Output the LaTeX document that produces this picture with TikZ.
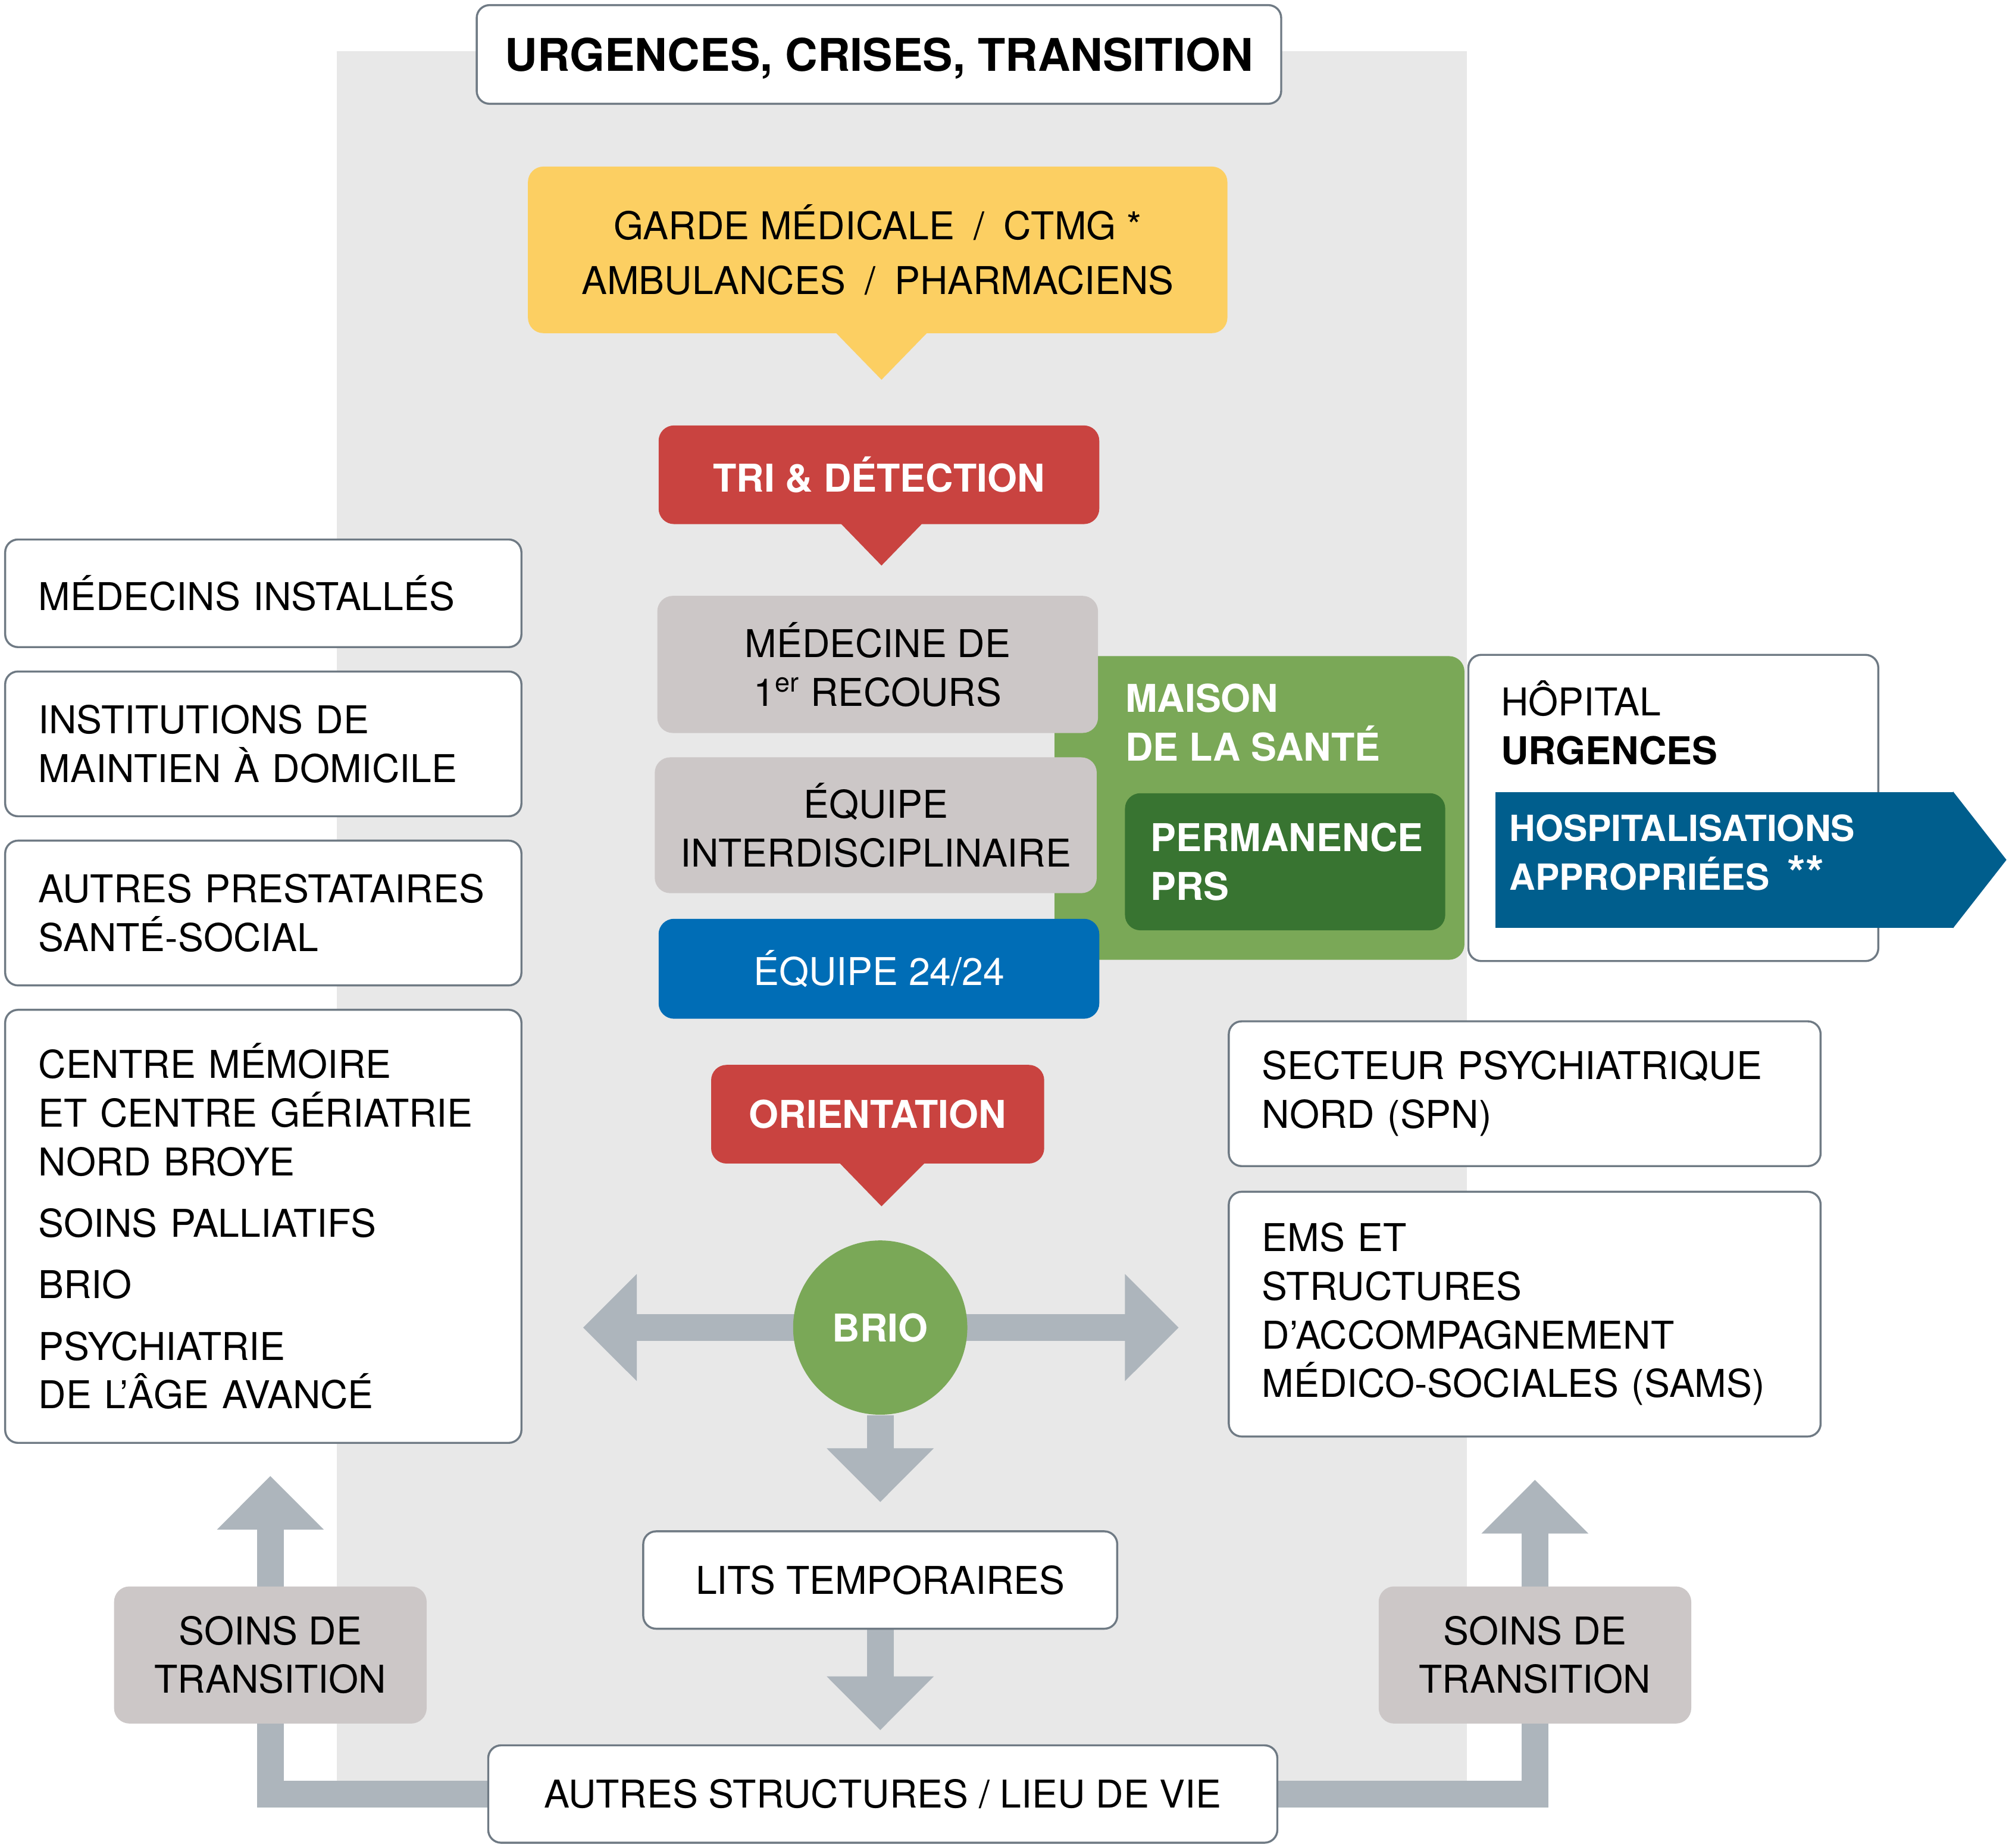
\documentclass[tikz,border=0pt]{standalone}
\usepackage{fontspec}
\setmainfont{TeX Gyre Heros}
\usepackage{tikz}
\usetikzlibrary{arrows.meta, positioning, calc}
\definecolor{BackGray}{HTML}{E8E8E8}
\definecolor{FrameGray}{HTML}{6F7A84}
\definecolor{GardeYellow}{HTML}{FCCF62}
\definecolor{AlertRed}{HTML}{C94340}
\definecolor{SoftGray}{HTML}{CCC7C7}
\definecolor{TeamBlue}{HTML}{006DB6}
\definecolor{MaisonGreen}{HTML}{7AA857}
\definecolor{PrsGreen}{HTML}{387431}
\definecolor{HospBlue}{HTML}{005E8D}
\definecolor{ArrowGray}{HTML}{ADB5BC}
\newcommand{\diagfont}{\fontsize{17}{21.6}\selectfont}
\newcommand{\diagbold}{\fontsize{17}{21.6}\selectfont\bfseries}
\pgfdeclarelayer{bg}
\pgfdeclarelayer{flow}
\pgfsetlayers{bg,flow,main}
\tikzset{
  % Box styles
  whitebox/.style={rectangle, rounded corners=0.2cm, draw=FrameGray, line width=0.9pt, fill=white, font=\diagfont, align=center},
  colbox/.style={rectangle, rounded corners=0.24cm, font=\diagfont, align=center},
  leftbox/.style={whitebox, align=left, text width=7.02cm, inner xsep=0.52cm},
  rightbox/.style={whitebox, align=left, text width=8.2cm, inner xsep=0.52cm},
  redbox/.style={colbox, fill=AlertRed, text=white, font=\diagbold},
  graybox/.style={colbox, fill=SoftGray},
  % Arrow styles
  grayarrow/.style={draw=ArrowGray, line width=0.42cm, -{Triangle[length=0.84cm, width=1.62cm]}}
}
\begin{document}
\begin{tikzpicture}[x=0.02cm, y=0.02cm]
  \useasboundingbox (0,0) rectangle (1568,-1442);

  % Background band
  \begin{pgfonlayer}{bg}
    \fill[BackGray] (263,-40) rectangle (1145,-1390);
  \end{pgfonlayer}

  % Title
  \node[whitebox, font={\fontsize{20}{24}\selectfont\bfseries}, text depth=0pt, minimum width=12.56cm, minimum height=1.54cm] (title) at (686,-42.5) {URGENCES, CRISES, TRANSITION};

  % Entry points
  \node[colbox, fill=GardeYellow, minimum width=10.92cm, minimum height=2.6cm] (garde) at (685,-195) {GARDE MÉDICALE\enspace/\enspace CTMG *\\[0.1cm]AMBULANCES\enspace/\enspace PHARMACIENS};
  \fill[GardeYellow] ($(garde.south)+(-33,1)$) -- ($(garde.south)+(39,1)$) -- ($(garde.south)+(3,-36)$) -- cycle;

  \node[redbox, minimum width=6.88cm, minimum height=1.54cm] (tri) at (686,-370.5) {TRI \& DÉTECTION};
  \fill[AlertRed] ($(tri.south)+(-30,1)$) -- ($(tri.south)+(34,1)$) -- ($(tri.south)+(2,-32)$) -- cycle;

  % Maison de la santé
  \node[colbox, fill=MaisonGreen, minimum width=6.4cm, minimum height=4.74cm] (maison) at (983,-630.5) {};
  \node[anchor=west, inner sep=0pt, align=left, text=white, font=\diagbold] (maisontxt) at (878,-564) {MAISON\\DE LA SANTÉ};
  \node[colbox, fill=PrsGreen, text=white, font=\diagbold, align=left, text width=4.2cm, inner xsep=0.4cm, minimum height=2.14cm] (prs) at (1003,-672.5) {PERMANENCE\\PRS};

  % Teams
  \node[graybox, minimum width=6.88cm, minimum height=2.14cm] (medecine) at (685,-518.5) {MÉDECINE DE\\1\textsuperscript{er} RECOURS};
  \node[graybox, minimum width=6.9cm, minimum height=2.12cm] (equipe) at (683.5,-644) {ÉQUIPE\\INTERDISCIPLINAIRE};
  \node[colbox, fill=TeamBlue, text=white, minimum width=6.88cm, minimum height=1.56cm] (equipe24) at (686,-756) {ÉQUIPE 24/24};

  % Hospital
  \node[whitebox, minimum width=6.4cm, minimum height=4.78cm] (hopital) at (1306,-630.5) {};
  \node[anchor=west, inner sep=0pt, align=left, font=\diagfont] (hopitaltxt) at (1171,-564) {HÔPITAL\\\textbf{URGENCES}};
  \coordinate (hosptip) at (1566,-671);
  \node[rectangle, fill=HospBlue, text=white, font={\fontsize{16}{21.6}\selectfont\bfseries}, align=left, text width=6.72cm, inner xsep=0.22cm, text depth=1.0cm, minimum height=2.12cm] (hospi) at (1346,-671) {HOSPITALISATIONS\\APPROPRIÉES\enspace{\fontsize{21}{21.6}\selectfont**}};
  \fill[HospBlue] ($(hospi.north east)+(-1,0)$) -- (hosptip) -- ($(hospi.south east)+(-1,0)$) -- cycle;

  % Left partners
  \node[leftbox, minimum height=1.68cm] (medecins) at (205.5,-463) {MÉDECINS INSTALLÉS};
  \node[leftbox, minimum height=2.26cm] (institutions) at (205.5,-580.5) {INSTITUTIONS DE\\MAINTIEN À DOMICILE};
  \node[leftbox, minimum height=2.26cm] (prestataires) at (205.5,-712.5) {AUTRES PRESTATAIRES\\SANTÉ-SOCIAL};
  \node[leftbox, minimum height=6.76cm] (centre) at (205.5,-957) {CENTRE MÉMOIRE\\ET CENTRE GÉRIATRIE\\NORD BROYE\\[0.2cm]SOINS PALLIATIFS\\[0.2cm]BRIO\\[0.2cm]PSYCHIATRIE\\DE L’ÂGE AVANCÉ};

  % Right partners
  \node[rightbox, minimum height=2.26cm] (secteur) at (1190,-853.5) {SECTEUR PSYCHIATRIQUE\\NORD (SPN)};
  \node[rightbox, minimum height=3.82cm] (ems) at (1190,-1025.5) {EMS ET\\STRUCTURES\\D’ACCOMPAGNEMENT\\MÉDICO-SOCIALES (SAMS)};

  % Orientation
  \node[redbox, minimum width=5.2cm, minimum height=1.54cm] (orientation) at (685,-869.5) {ORIENTATION};
  \fill[AlertRed] ($(orientation.south)+(-30,1)$) -- ($(orientation.south)+(37,1)$) -- ($(orientation.south)+(3,-33)$) -- cycle;

  \node[circle, fill=MaisonGreen, text=white, font=\diagbold, minimum size=2.72cm, inner sep=0pt] (brio) at (687,-1036) {BRIO};
  \coordinate (lefttip) at (455,-1036);
  \coordinate (righttip) at (920,-1036);

  % Bottom
  \node[whitebox, minimum width=7.4cm, minimum height=1.52cm] (lits) at (687,-1233) {LITS TEMPORAIRES};
  \node[whitebox, minimum width=12.32cm, minimum height=1.52cm] (autres) at (689,-1400) {AUTRES STRUCTURES / LIEU DE VIE};
  \node[graybox, minimum width=4.88cm, minimum height=2.14cm] (soinsL) at (211,-1291.5) {SOINS DE\\TRANSITION};
  \node[graybox, minimum width=4.88cm, minimum height=2.14cm] (soinsR) at (1198,-1291.5) {SOINS DE\\TRANSITION};

  % Flows
  \begin{pgfonlayer}{flow}
    \draw[grayarrow] (brio.center) -- (lefttip);
    \draw[grayarrow] (brio.center) -- (righttip);
    \draw[grayarrow, shorten >=0.44cm] (brio.south) -- (lits.north);
    \draw[grayarrow, shorten >=0.22cm] (lits.south) -- (lits.south |- autres.north);
    \draw[grayarrow, shorten >=0.5cm] (autres.west) -| (soinsL |- centre.south);
    \draw[grayarrow, shorten >=0.66cm] (autres.east) -| (soinsR |- ems.south);
  \end{pgfonlayer}
\end{tikzpicture}
\end{document}
